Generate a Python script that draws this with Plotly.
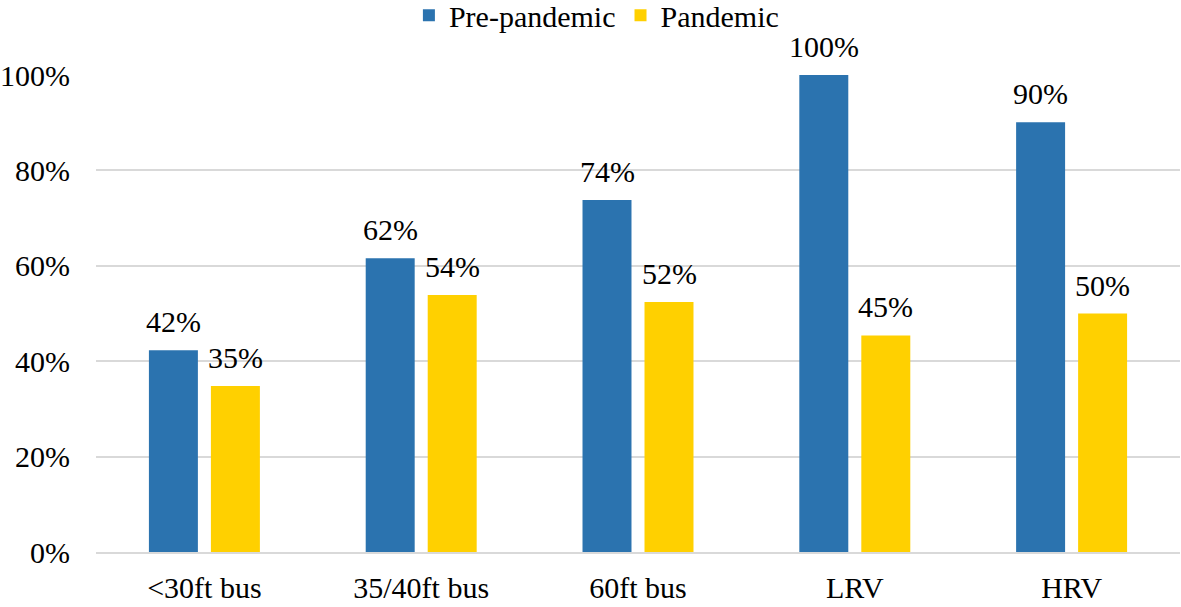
import plotly.graph_objects as go

categories = ["<30ft bus", "35/40ft bus", "60ft bus", "LRV", "HRV"]
pre_pandemic = [42.3, 61.6, 73.8, 100.0, 90.1]
pandemic = [34.8, 53.9, 52.4, 45.4, 50.0]
y_ticks = [0, 20, 40, 60, 80, 100]
y_tick_labels = ["0%", "20%", "40%", "60%", "80%", "100%"]

FONT = "Times New Roman"
FS = 30
BLUE = "#2B73AF"
YELLOW = "#FFD000"
BARGAP = 0.428

fig = go.Figure()
fig.add_trace(go.Bar(
    name="Pre-pandemic", x=categories, y=pre_pandemic,
    marker=dict(color=BLUE, line=dict(width=0)),
))
fig.add_trace(go.Bar(
    name="Pandemic", x=categories, y=pandemic,
    marker=dict(color=YELLOW, line=dict(width=0)),
))

# value labels placed above each bar via the data axes
slot = (1 - BARGAP) / 2
annotations = []
for series, shift in ((pre_pandemic, -slot / 2), (pandemic, slot / 2)):
    for i, v in enumerate(series):
        annotations.append(dict(
            x=i + shift, y=v, xref="x", yref="y", text=f"{v:.0f}%",
            showarrow=False, xanchor="center", yanchor="bottom", yshift=10,
            font=dict(family=FONT, size=FS, color="black"),
        ))

fig.update_layout(
    width=1181, height=607,
    margin=dict(l=96, r=1, t=75, b=55, autoexpand=False),
    paper_bgcolor="white", plot_bgcolor="white",
    font=dict(family=FONT, size=FS, color="black"),
    barmode="group", bargap=BARGAP, bargroupgap=0.21,
    annotations=annotations,
    legend=dict(orientation="h", x=0.505, xanchor="center", xref="container",
                y=0.975, yanchor="middle", yref="container",
                font=dict(family=FONT, size=FS, color="black"),
                itemwidth=30, tracegroupgap=0, bgcolor="rgba(0,0,0,0)"),
    showlegend=True,
)
fig.update_xaxes(showgrid=False, showline=True, linecolor="#d9d9d9", linewidth=2,
                 ticks="", ticklabelstandoff=8, automargin=False,
                 tickfont=dict(family=FONT, size=FS, color="black"))
fig.update_yaxes(range=[0, 100], tickvals=y_ticks, ticktext=y_tick_labels,
                 showgrid=True, gridcolor="#d9d9d9", gridwidth=2, automargin=False,
                 zeroline=False, showline=False, ticks="", ticklabelstandoff=25,
                 tickfont=dict(family=FONT, size=FS, color="black"))

fig.write_html("out.html", config={"displayModeBar": False},
               post_script="document.body.style.margin='0';document.body.style.padding='0';")
